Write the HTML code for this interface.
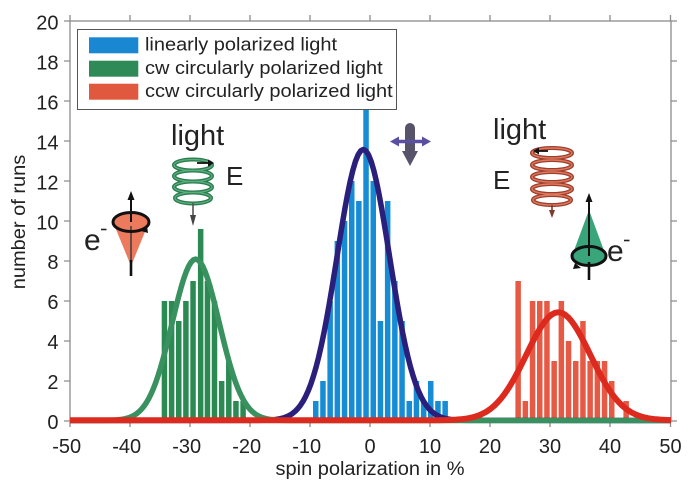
<!DOCTYPE html>
<html>
<head>
<meta charset="utf-8">
<style>
  html,body{margin:0;padding:0;background:#fff;}
  svg{display:block;}
  text{font-family:"Liberation Sans", Arial, sans-serif;fill:#222;}
</style>
</head>
<body>
<svg width="698" height="486" viewBox="0 0 698 486" xmlns="http://www.w3.org/2000/svg">
  <rect x="0" y="0" width="698" height="486" fill="#fff"/>
  <defs>
    <clipPath id="plot"><rect x="70" y="0" width="601" height="430"/></clipPath>
  </defs>

  <!-- axes box -->
  <g stroke="#8c8c8c" stroke-width="1.3" fill="none">
    <rect x="70" y="21" width="601" height="400"/>
    <path d="M64 421H70M64 381H70M64 341H70M64 301H70M64 261H70M64 221H70M64 181H70M64 141H70M64 101H70M64 61H70M64 21H70"/>
    <path d="M671 421H677M671 381H677M671 341H677M671 301H677M671 261H677M671 221H677M671 181H677M671 141H677M671 101H677M671 61H677M671 21H677"/>
    <path d="M70 421V427M130 421V427M190 421V427M250 421V427M310 421V427M370 421V427M430 421V427M490 421V427M550 421V427M610 421V427M670.5 421V427"/>
    <path d="M70 15V21M130 15V21M190 15V21M250 15V21M310 15V21M370 15V21M430 15V21M490 15V21M550 15V21M610 15V21M670.5 15V21"/>
  </g>

  <!-- y tick labels -->
  <g font-size="20" text-anchor="end">
    <text x="58.5" y="429">0</text>
    <text x="58.5" y="389">2</text>
    <text x="58.5" y="349">4</text>
    <text x="58.5" y="309">6</text>
    <text x="58.5" y="269">8</text>
    <text x="58.5" y="229.5">10</text>
    <text x="58.5" y="189.5">12</text>
    <text x="58.5" y="149.5">14</text>
    <text x="58.5" y="109.5">16</text>
    <text x="58.5" y="69.5">18</text>
    <text x="58.5" y="29.5">20</text>
  </g>
  <!-- x tick labels -->
  <g font-size="20">
    <text x="81.1" y="453" text-anchor="end">-50</text>
    <text x="141.1" y="453" text-anchor="end">-40</text>
    <text x="201.1" y="453" text-anchor="end">-30</text>
    <text x="261.1" y="453" text-anchor="end">-20</text>
    <text x="321.1" y="453" text-anchor="end">-10</text>
    <text x="370" y="453" text-anchor="middle">0</text>
    <text x="430" y="453" text-anchor="middle">10</text>
    <text x="490" y="453" text-anchor="middle">20</text>
    <text x="550" y="453" text-anchor="middle">30</text>
    <text x="610" y="453" text-anchor="middle">40</text>
    <text x="670.5" y="453" text-anchor="middle">50</text>
  </g>
  <!-- axis titles -->
  <text x="370" y="475" font-size="19" text-anchor="middle" textLength="189" lengthAdjust="spacingAndGlyphs">spin polarization in %</text>
  <text transform="translate(25,222) rotate(-90)" font-size="19" text-anchor="middle" textLength="134.5" lengthAdjust="spacingAndGlyphs">number of runs</text>

  <g clip-path="url(#plot)">
    <!-- blue bars -->
    <g fill="#168cd4">
      <rect x="313.0" y="401" width="5.5" height="20"/>
      <rect x="320.2" y="381" width="5.5" height="40"/>
      <rect x="327.4" y="301" width="5.5" height="120"/>
      <rect x="334.6" y="241" width="5.5" height="180"/>
      <rect x="341.8" y="221" width="5.5" height="200"/>
      <rect x="349.0" y="181" width="5.5" height="240"/>
      <rect x="356.1" y="201" width="5.5" height="220"/>
      <rect x="363.3" y="101" width="5.5" height="320"/>
      <rect x="370.5" y="181" width="5.5" height="240"/>
      <rect x="377.7" y="321" width="5.5" height="100"/>
      <rect x="384.9" y="201" width="5.5" height="220"/>
      <rect x="392.1" y="281" width="5.5" height="140"/>
      <rect x="399.3" y="321" width="5.5" height="100"/>
      <rect x="406.5" y="401" width="5.5" height="20"/>
      <rect x="413.7" y="381" width="5.5" height="40"/>
      <rect x="420.9" y="401" width="5.5" height="20"/>
      <rect x="428.0" y="381" width="5.5" height="40"/>
      <rect x="435.2" y="401" width="5.5" height="20"/>
      <rect x="442.4" y="401" width="5.5" height="20"/>
    </g>
    <!-- green bars -->
    <g fill="#2a8a52">
      <rect x="161.7" y="301" width="5.5" height="120"/>
      <rect x="168.85" y="301" width="5.5" height="120"/>
      <rect x="176.0" y="321" width="5.5" height="100"/>
      <rect x="183.15" y="301" width="5.5" height="120"/>
      <rect x="190.3" y="281" width="5.5" height="140"/>
      <rect x="197.9" y="229" width="5.5" height="192"/>
      <rect x="204.7" y="281" width="5.5" height="140"/>
      <rect x="211.75" y="301" width="5.5" height="120"/>
      <rect x="218.9" y="381" width="5.5" height="40"/>
      <rect x="226.05" y="361" width="5.5" height="60"/>
      <rect x="233.2" y="401" width="5.5" height="20"/>
      <rect x="240.35" y="401" width="5.5" height="20"/>
    </g>
    <!-- red bars -->
    <g fill="#e65a45">
      <rect x="515.4" y="281" width="5.5" height="140"/>
      <rect x="522.6" y="401" width="5.5" height="20"/>
      <rect x="529.8" y="301" width="5.5" height="120"/>
      <rect x="537.0" y="301" width="5.5" height="120"/>
      <rect x="544.2" y="301" width="5.5" height="120"/>
      <rect x="551.4" y="361" width="5.5" height="60"/>
      <rect x="558.6" y="301" width="5.5" height="120"/>
      <rect x="565.8" y="341" width="5.5" height="80"/>
      <rect x="573.0" y="361" width="5.5" height="60"/>
      <rect x="580.2" y="321" width="5.5" height="100"/>
      <rect x="587.4" y="361" width="5.5" height="60"/>
      <rect x="594.6" y="361" width="5.5" height="60"/>
      <rect x="601.8" y="361" width="5.5" height="60"/>
      <rect x="609.0" y="381" width="5.5" height="40"/>
      <rect x="623.4" y="401" width="5.5" height="20"/>
    </g>

    <!-- gaussian fits -->
    <g fill="none" stroke-linejoin="round" stroke-linecap="butt">
      <path transform="translate(363.3,420.5) scale(26.2,-271)" vector-effect="non-scaling-stroke" stroke="#2b1f7c" stroke-width="5.5"
        d="M-25 0L-4 0.0003L-3.8 0.0007L-3.6 0.0015L-3.4 0.0031L-3.2 0.006L-3 0.0111L-2.9 0.0149L-2.8 0.0198L-2.7 0.0261L-2.6 0.034L-2.5 0.0439L-2.4 0.0561L-2.3 0.071L-2.2 0.0889L-2.1 0.1103L-2 0.1353L-1.9 0.1645L-1.8 0.1979L-1.7 0.2357L-1.6 0.278L-1.5 0.3247L-1.4 0.3753L-1.3 0.4296L-1.2 0.4868L-1.1 0.5461L-1 0.6065L-0.9 0.667L-0.8 0.7261L-0.7 0.7827L-0.6 0.8353L-0.5 0.8825L-0.4 0.9231L-0.3 0.956L-0.2 0.9802L-0.1 0.995L0 1L0.1 0.995L0.2 0.9802L0.3 0.956L0.4 0.9231L0.5 0.8825L0.6 0.8353L0.7 0.7827L0.8 0.7261L0.9 0.667L1 0.6065L1.1 0.5461L1.2 0.4868L1.3 0.4296L1.4 0.3753L1.5 0.3247L1.6 0.278L1.7 0.2357L1.8 0.1979L1.9 0.1645L2 0.1353L2.1 0.1103L2.2 0.0889L2.3 0.071L2.4 0.0561L2.5 0.0439L2.6 0.034L2.7 0.0261L2.8 0.0198L2.9 0.0149L3 0.0111L3.2 0.006L3.4 0.0031L3.6 0.0015L3.8 0.0007L4 0.0003L25 0"/>
      <path transform="translate(195.7,420.5) scale(23.5,-161.4)" vector-effect="non-scaling-stroke" stroke="#3a9160" stroke-width="5.5"
        d="M-25 0L-4 0.0003L-3.8 0.0007L-3.6 0.0015L-3.4 0.0031L-3.2 0.006L-3 0.0111L-2.9 0.0149L-2.8 0.0198L-2.7 0.0261L-2.6 0.034L-2.5 0.0439L-2.4 0.0561L-2.3 0.071L-2.2 0.0889L-2.1 0.1103L-2 0.1353L-1.9 0.1645L-1.8 0.1979L-1.7 0.2357L-1.6 0.278L-1.5 0.3247L-1.4 0.3753L-1.3 0.4296L-1.2 0.4868L-1.1 0.5461L-1 0.6065L-0.9 0.667L-0.8 0.7261L-0.7 0.7827L-0.6 0.8353L-0.5 0.8825L-0.4 0.9231L-0.3 0.956L-0.2 0.9802L-0.1 0.995L0 1L0.1 0.995L0.2 0.9802L0.3 0.956L0.4 0.9231L0.5 0.8825L0.6 0.8353L0.7 0.7827L0.8 0.7261L0.9 0.667L1 0.6065L1.1 0.5461L1.2 0.4868L1.3 0.4296L1.4 0.3753L1.5 0.3247L1.6 0.278L1.7 0.2357L1.8 0.1979L1.9 0.1645L2 0.1353L2.1 0.1103L2.2 0.0889L2.3 0.071L2.4 0.0561L2.5 0.0439L2.6 0.034L2.7 0.0261L2.8 0.0198L2.9 0.0149L3 0.0111L3.2 0.006L3.4 0.0031L3.6 0.0015L3.8 0.0007L4 0.0003L25 0"/>
      <path transform="translate(558.3,420.3) scale(32,-108)" vector-effect="non-scaling-stroke" stroke="#dc2a1e" stroke-width="6"
        d="M-25 0L-4 0.0003L-3.8 0.0007L-3.6 0.0015L-3.4 0.0031L-3.2 0.006L-3 0.0111L-2.9 0.0149L-2.8 0.0198L-2.7 0.0261L-2.6 0.034L-2.5 0.0439L-2.4 0.0561L-2.3 0.071L-2.2 0.0889L-2.1 0.1103L-2 0.1353L-1.9 0.1645L-1.8 0.1979L-1.7 0.2357L-1.6 0.278L-1.5 0.3247L-1.4 0.3753L-1.3 0.4296L-1.2 0.4868L-1.1 0.5461L-1 0.6065L-0.9 0.667L-0.8 0.7261L-0.7 0.7827L-0.6 0.8353L-0.5 0.8825L-0.4 0.9231L-0.3 0.956L-0.2 0.9802L-0.1 0.995L0 1L0.1 0.995L0.2 0.9802L0.3 0.956L0.4 0.9231L0.5 0.8825L0.6 0.8353L0.7 0.7827L0.8 0.7261L0.9 0.667L1 0.6065L1.1 0.5461L1.2 0.4868L1.3 0.4296L1.4 0.3753L1.5 0.3247L1.6 0.278L1.7 0.2357L1.8 0.1979L1.9 0.1645L2 0.1353L2.1 0.1103L2.2 0.0889L2.3 0.071L2.4 0.0561L2.5 0.0439L2.6 0.034L2.7 0.0261L2.8 0.0198L2.9 0.0149L3 0.0111L3.2 0.006L3.4 0.0031L3.6 0.0015L3.8 0.0007L4 0.0003L25 0"/>
    </g>
  </g>

  <!-- legend -->
  <rect x="77.5" y="29.5" width="319" height="80" fill="#fff" stroke="#555" stroke-width="1"/>
  <rect x="89" y="37.3" width="49.3" height="16" fill="#1a87d3"/>
  <rect x="89" y="60.7" width="49.3" height="16" fill="#2e8b57"/>
  <rect x="89" y="83.7" width="49.3" height="16" fill="#e0583e"/>
  <g font-size="18.5">
    <text x="145" y="50.5" textLength="192" lengthAdjust="spacingAndGlyphs">linearly polarized light</text>
    <text x="145" y="73.8" textLength="237.7" lengthAdjust="spacingAndGlyphs">cw circularly polarized light</text>
    <text x="145" y="96.8" textLength="247.7" lengthAdjust="spacingAndGlyphs">ccw circularly polarized light</text>
  </g>

  <!-- left: e- and orange cone -->
  <text x="84" y="250" font-size="30">e</text>
  <line x1="101" y1="229.5" x2="106.5" y2="229.5" stroke="#222" stroke-width="1.6"/>
  <polygon points="113,222 149,222 131,266" fill="#ec7a5c"/>
  <ellipse cx="131" cy="222" rx="18" ry="9" fill="#ec7a5c"/>
  <line x1="131" y1="226" x2="131" y2="262" stroke="#6a4a42" stroke-width="2"/>
  <line x1="131" y1="260" x2="131" y2="276" stroke="#111" stroke-width="2.6"/>
  <line x1="131" y1="222" x2="131" y2="198" stroke="#111" stroke-width="2"/>
  <polygon points="131,191 127.5,200 134.5,200" fill="#111"/>
  <ellipse cx="131" cy="222" rx="18" ry="9.5" fill="none" stroke="#111" stroke-width="3"/>
  <polygon points="141,231 147,226 148,233" fill="#111"/>

  <!-- left light + green helix -->
  <text x="171" y="145" font-size="29">light</text>
  <text x="226" y="185" font-size="26">E</text>
  <g fill="none">
    <g stroke="#2a7d4f" stroke-width="4">
      <ellipse cx="193" cy="165" rx="19" ry="5.5"/>
      <ellipse cx="193" cy="176" rx="19" ry="5.5"/>
      <ellipse cx="193" cy="187" rx="19" ry="5.5"/>
      <ellipse cx="193" cy="198" rx="18" ry="5.5"/>
    </g>
    <g stroke="#5cae7e" stroke-width="1.3">
      <ellipse cx="193" cy="165" rx="19" ry="5.5"/>
      <ellipse cx="193" cy="176" rx="19" ry="5.5"/>
      <ellipse cx="193" cy="187" rx="19" ry="5.5"/>
      <ellipse cx="193" cy="198" rx="18" ry="5.5"/>
    </g>
  </g>
  <line x1="193" y1="203" x2="193" y2="218" stroke="#555" stroke-width="1.6"/>
  <polygon points="190,215 196,215 193,226" fill="#444"/>
  <line x1="197" y1="163" x2="209" y2="163" stroke="#111" stroke-width="1.8"/>
  <polygon points="214,163 208,159.5 208,166.5" fill="#111"/>

  <!-- center linear polarization icon -->
  <rect x="405" y="123" width="10" height="32" rx="5" fill="#57536b"/>
  <polygon points="402,151 418,151 410,166" fill="#57536b"/>
  <line x1="396" y1="141.5" x2="424" y2="141.5" stroke="#5a4fa0" stroke-width="3.5"/>
  <polygon points="390,141.5 399,136.5 399,146.5" fill="#5a4fa0"/>
  <polygon points="431,141.5 422,136.5 422,146.5" fill="#5a4fa0"/>

  <!-- right light + red helix -->
  <text x="493" y="139" font-size="29">light</text>
  <text x="493" y="189" font-size="26">E</text>
  <g fill="none">
    <g stroke="#9e3f2e" stroke-width="4">
      <ellipse cx="552" cy="153" rx="20" ry="5"/>
      <ellipse cx="552" cy="165" rx="20" ry="5"/>
      <ellipse cx="552" cy="177" rx="20" ry="5"/>
      <ellipse cx="552" cy="189" rx="20" ry="5"/>
      <ellipse cx="552" cy="200" rx="19" ry="5"/>
    </g>
    <g stroke="#e07a5f" stroke-width="1.4">
      <ellipse cx="552" cy="153" rx="20" ry="5"/>
      <ellipse cx="552" cy="165" rx="20" ry="5"/>
      <ellipse cx="552" cy="177" rx="20" ry="5"/>
      <ellipse cx="552" cy="189" rx="20" ry="5"/>
      <ellipse cx="552" cy="200" rx="19" ry="5"/>
    </g>
  </g>
  <line x1="552" y1="205" x2="552" y2="212" stroke="#7a3a2e" stroke-width="1.6"/>
  <polygon points="549,210 555,210 552,218" fill="#7a3a2e"/>
  <line x1="538" y1="151" x2="548" y2="151" stroke="#111" stroke-width="1.8"/>
  <polygon points="533,151 539,147.5 539,154.5" fill="#111"/>

  <!-- right: green cone + e- -->
  <polygon points="589,210 572,256 606,256" fill="#3aa57a"/>
  <ellipse cx="589" cy="256" rx="17" ry="8" fill="#3aa57a"/>
  <line x1="589" y1="262" x2="589" y2="280" stroke="#111" stroke-width="2.6"/>
  <line x1="589" y1="256" x2="589" y2="200" stroke="#111" stroke-width="2"/>
  <polygon points="589,193 585.5,202 592.5,202" fill="#111"/>
  <ellipse cx="589" cy="256" rx="17" ry="9.5" fill="none" stroke="#111" stroke-width="3"/>
  <polygon points="575,263 581,268 573,269" fill="#111"/>
  <text x="607" y="261" font-size="30">e</text>
  <line x1="624" y1="240.5" x2="629.5" y2="240.5" stroke="#222" stroke-width="1.6"/>
</svg>
</body>
</html>
